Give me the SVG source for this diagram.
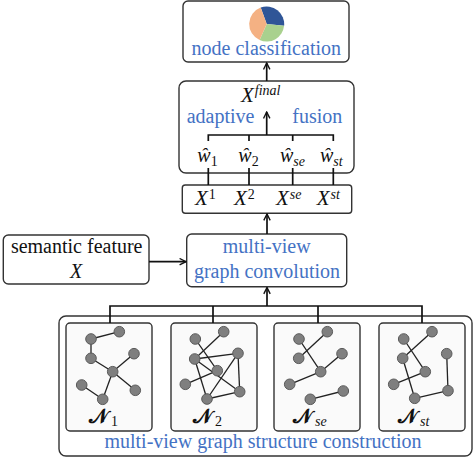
<svg xmlns="http://www.w3.org/2000/svg" width="474" height="462" viewBox="0 0 474 462">
<style>
.box{fill:#fff;stroke:#333;stroke-width:1.4}
.panel{fill:#fafafa;stroke:#333;stroke-width:1.4}
.t{font-family:"Liberation Serif","Times New Roman",serif;font-size:20px}
.blue{fill:#4472c4}
.blk{fill:#111}
.m{font-family:"Liberation Serif","Times New Roman",serif;font-style:italic;fill:#111}
.up{font-style:normal}
.cal{font-family:"DejaVu Serif","DejaVu Sans","Noto Sans",serif;fill:#111;font-weight:bold;font-size:20px}
.sub{font-family:"Liberation Serif","Times New Roman",serif;fill:#111;font-size:14px}
.ln{stroke:#111;stroke-width:1.7;fill:none}
.e{stroke:#222;stroke-width:1.3}
.n{fill:#7f7f7f;stroke:#5a5a5a;stroke-width:1}
</style>
<defs>
<marker id="arr" viewBox="0 0 10 10" refX="9" refY="5" markerWidth="8" markerHeight="8" orient="auto" markerUnits="userSpaceOnUse">
<path d="M1,1 L9,5 L1,9" fill="none" stroke="#111" stroke-width="1.7"/>
</marker>
<g id="nd"><circle r="5.3" class="n"/></g>
</defs>
<rect width="474" height="462" fill="#fff"/>

<g id="node-classification">
<rect class="box" x="183" y="1" width="166" height="61" rx="5"/>
<path d="M266.7,24 L260.7,7.55 A17.5,17.5 0 0 1 284.1,25.8 Z" fill="#2f5597"/>
<path d="M266.7,24 L284.1,25.8 A17.5,17.5 0 0 1 259.6,40 Z" fill="#a9d18e"/>
<path d="M266.7,24 L259.6,40 A17.5,17.5 0 0 1 260.7,7.55 Z" fill="#f4b183"/>
<text class="t blue" x="266.3" y="55" text-anchor="middle">node classification</text>
</g>

<g id="adaptive-fusion">
<rect class="box" x="179" y="81" width="175" height="92" rx="7"/>
<text class="m" x="241" y="101.7" font-size="21">X<tspan font-size="14" dy="-7" dx="1">final</tspan></text>
<text class="t blue" x="186.7" y="123">adaptive</text>
<text class="t blue" x="342.3" y="123" text-anchor="end">fusion</text>
<text class="m" x="197.3" y="161.7" font-size="20">ŵ<tspan class="up" font-size="14" dy="4">1</tspan></text>
<text class="m" x="238.3" y="161.7" font-size="20">ŵ<tspan class="up" font-size="14" dy="4">2</tspan></text>
<text class="m" x="280" y="161.7" font-size="20">ŵ<tspan font-size="14" dy="4">se</tspan></text>
<text class="m" x="320" y="161.7" font-size="20">ŵ<tspan font-size="14" dy="4">st</tspan></text>
</g>

<g id="x-views">
<rect class="box" x="182.3" y="185" width="169.4" height="28.3" rx="3"/>
<text class="m" x="195" y="205" font-size="21">X<tspan class="up" font-size="14" dy="-6" dx="1">1</tspan></text>
<text class="m" x="234" y="205" font-size="21">X<tspan class="up" font-size="14" dy="-6" dx="1">2</tspan></text>
<text class="m" x="276" y="205" font-size="21">X<tspan font-size="14" dy="-6" dx="1">se</tspan></text>
<text class="m" x="316.7" y="205" font-size="21">X<tspan font-size="14" dy="-6" dx="1">st</tspan></text>
</g>

<g id="semantic-feature">
<rect class="box" x="3.3" y="235" width="145.7" height="49" rx="5"/>
<text class="t blk" x="76.7" y="253.3" text-anchor="middle">semantic feature</text>
<text class="m" x="76" y="278" font-size="20" text-anchor="middle">X</text>
</g>

<g id="multi-view-graph-convolution">
<rect class="box" x="186.7" y="234" width="160" height="52.7" rx="5"/>
<text class="t blue" x="266.7" y="253.3" text-anchor="middle">multi-view</text>
<text class="t blue" x="267" y="278.3" text-anchor="middle">graph convolution</text>
</g>

<g id="graph-structure-construction">
<rect class="box" x="59" y="316" width="413" height="140" rx="7"/>
<text class="t blue" x="263" y="448" text-anchor="middle">multi-view graph structure construction</text>
</g>

<g id="panel-n1">
<rect class="panel" x="66" y="323" width="86" height="108" rx="4"/>
<g>
<line class="e" x1="91" y1="339" x2="119.3" y2="331.7"/>
<line class="e" x1="91" y1="339" x2="91" y2="358.3"/>
<line class="e" x1="91" y1="358.3" x2="112.7" y2="371.7"/>
<line class="e" x1="112.7" y1="371.7" x2="134" y2="353.7"/>
<line class="e" x1="112.7" y1="371.7" x2="135.3" y2="390.3"/>
<line class="e" x1="112.7" y1="371.7" x2="102.7" y2="399.3"/>
<line class="e" x1="102.7" y1="399.3" x2="81.7" y2="385"/>
</g>
<use href="#nd" x="91" y="339"/><use href="#nd" x="119.3" y="331.7"/><use href="#nd" x="91" y="358.3"/><use href="#nd" x="134" y="353.7"/>
<use href="#nd" x="112.7" y="371.7"/><use href="#nd" x="81.7" y="385"/><use href="#nd" x="102.7" y="399.3"/><use href="#nd" x="135.3" y="390.3"/>
<text class="cal" x="108" y="423" text-anchor="end">𝒩</text>
<text class="sub" x="111" y="426">1</text>
</g>

<g id="panel-n2">
<rect class="panel" x="171" y="323" width="86" height="108" rx="4"/>
<g>
<line class="e" x1="195.3" y1="339" x2="217.3" y2="370.7"/>
<line class="e" x1="223.7" y1="331.7" x2="194.7" y2="359"/>
<line class="e" x1="194.7" y1="359" x2="238" y2="353.3"/>
<line class="e" x1="194.7" y1="359" x2="239.7" y2="391.7"/>
<line class="e" x1="194.7" y1="359" x2="207" y2="399"/>
<line class="e" x1="238" y1="353.3" x2="207" y2="399"/>
<line class="e" x1="238" y1="353.3" x2="239.7" y2="391.7"/>
<line class="e" x1="207" y1="399" x2="239.7" y2="391.7"/>
<line class="e" x1="185.3" y1="384.3" x2="217.3" y2="370.7"/>
</g>
<use href="#nd" x="195.3" y="339"/><use href="#nd" x="223.7" y="331.7"/><use href="#nd" x="194.7" y="359"/><use href="#nd" x="238" y="353.3"/>
<use href="#nd" x="217.3" y="370.7"/><use href="#nd" x="185.3" y="384.3"/><use href="#nd" x="207" y="399"/><use href="#nd" x="239.7" y="391.7"/>
<text class="cal" x="212" y="423" text-anchor="end">𝒩</text>
<text class="sub" x="215" y="426">2</text>
</g>

<g id="panel-nse">
<rect class="panel" x="274" y="323" width="86" height="108" rx="4"/>
<g>
<line class="e" x1="299" y1="339" x2="320.7" y2="371.7"/>
<line class="e" x1="327.3" y1="331.7" x2="298.7" y2="358.3"/>
<line class="e" x1="320.7" y1="371.7" x2="342" y2="353.7"/>
<line class="e" x1="320.7" y1="371.7" x2="289.7" y2="384.3"/>
<line class="e" x1="310.3" y1="399.3" x2="343.3" y2="391"/>
</g>
<use href="#nd" x="299" y="339"/><use href="#nd" x="327.3" y="331.7"/><use href="#nd" x="298.7" y="358.3"/><use href="#nd" x="342" y="353.7"/>
<use href="#nd" x="320.7" y="371.7"/><use href="#nd" x="289.7" y="384.3"/><use href="#nd" x="310.3" y="399.3"/><use href="#nd" x="343.3" y="391"/>
<text class="cal" x="312" y="423" text-anchor="end">𝒩</text>
<text class="sub" x="315" y="426" font-style="italic">se</text>
</g>

<g id="panel-nst">
<rect class="panel" x="379" y="323" width="86" height="108" rx="4"/>
<g>
<line class="e" x1="403.7" y1="339" x2="425.3" y2="371.7"/>
<line class="e" x1="432" y1="331.7" x2="402.7" y2="358.3"/>
<line class="e" x1="402.7" y1="358.3" x2="414.7" y2="398.3"/>
<line class="e" x1="425.3" y1="371.7" x2="393.7" y2="384.3"/>
<line class="e" x1="414.7" y1="398.3" x2="448" y2="390.7"/>
<line class="e" x1="446.7" y1="353.7" x2="448" y2="390.7"/>
</g>
<use href="#nd" x="403.7" y="339"/><use href="#nd" x="432" y="331.7"/><use href="#nd" x="402.7" y="358.3"/><use href="#nd" x="446.7" y="353.7"/>
<use href="#nd" x="425.3" y="371.7"/><use href="#nd" x="393.7" y="384.3"/><use href="#nd" x="414.7" y="398.3"/><use href="#nd" x="448" y="390.7"/>
<text class="cal" x="417" y="423" text-anchor="end">𝒩</text>
<text class="sub" x="420" y="426" font-style="italic">st</text>
</g>

<g id="connectors">
<line class="ln" x1="266.7" y1="81" x2="266.7" y2="63" marker-end="url(#arr)"/>
<line class="ln" x1="266.7" y1="135" x2="266.7" y2="112" marker-end="url(#arr)"/>
<polyline class="ln" points="208.3,141 208.3,135 333.3,135 333.3,141"/>
<line class="ln" x1="249" y1="135" x2="249" y2="141"/>
<line class="ln" x1="292.7" y1="135" x2="292.7" y2="141"/>
<line class="ln" x1="208.3" y1="168" x2="208.3" y2="185"/>
<line class="ln" x1="249" y1="168" x2="249" y2="185"/>
<line class="ln" x1="292.7" y1="168" x2="292.7" y2="185"/>
<line class="ln" x1="333.3" y1="168" x2="333.3" y2="185"/>
<line class="ln" x1="267" y1="234" x2="267" y2="214" marker-end="url(#arr)"/>
<line class="ln" x1="149" y1="261.7" x2="186" y2="261.7" marker-end="url(#arr)"/>
<line class="ln" x1="267" y1="306" x2="267" y2="287.5" marker-end="url(#arr)"/>
<polyline class="ln" points="110,323 110,306 422,306 422,323"/>
<line class="ln" x1="213" y1="306" x2="213" y2="323"/>
<line class="ln" x1="318" y1="306" x2="318" y2="323"/>
</g>
</svg>
